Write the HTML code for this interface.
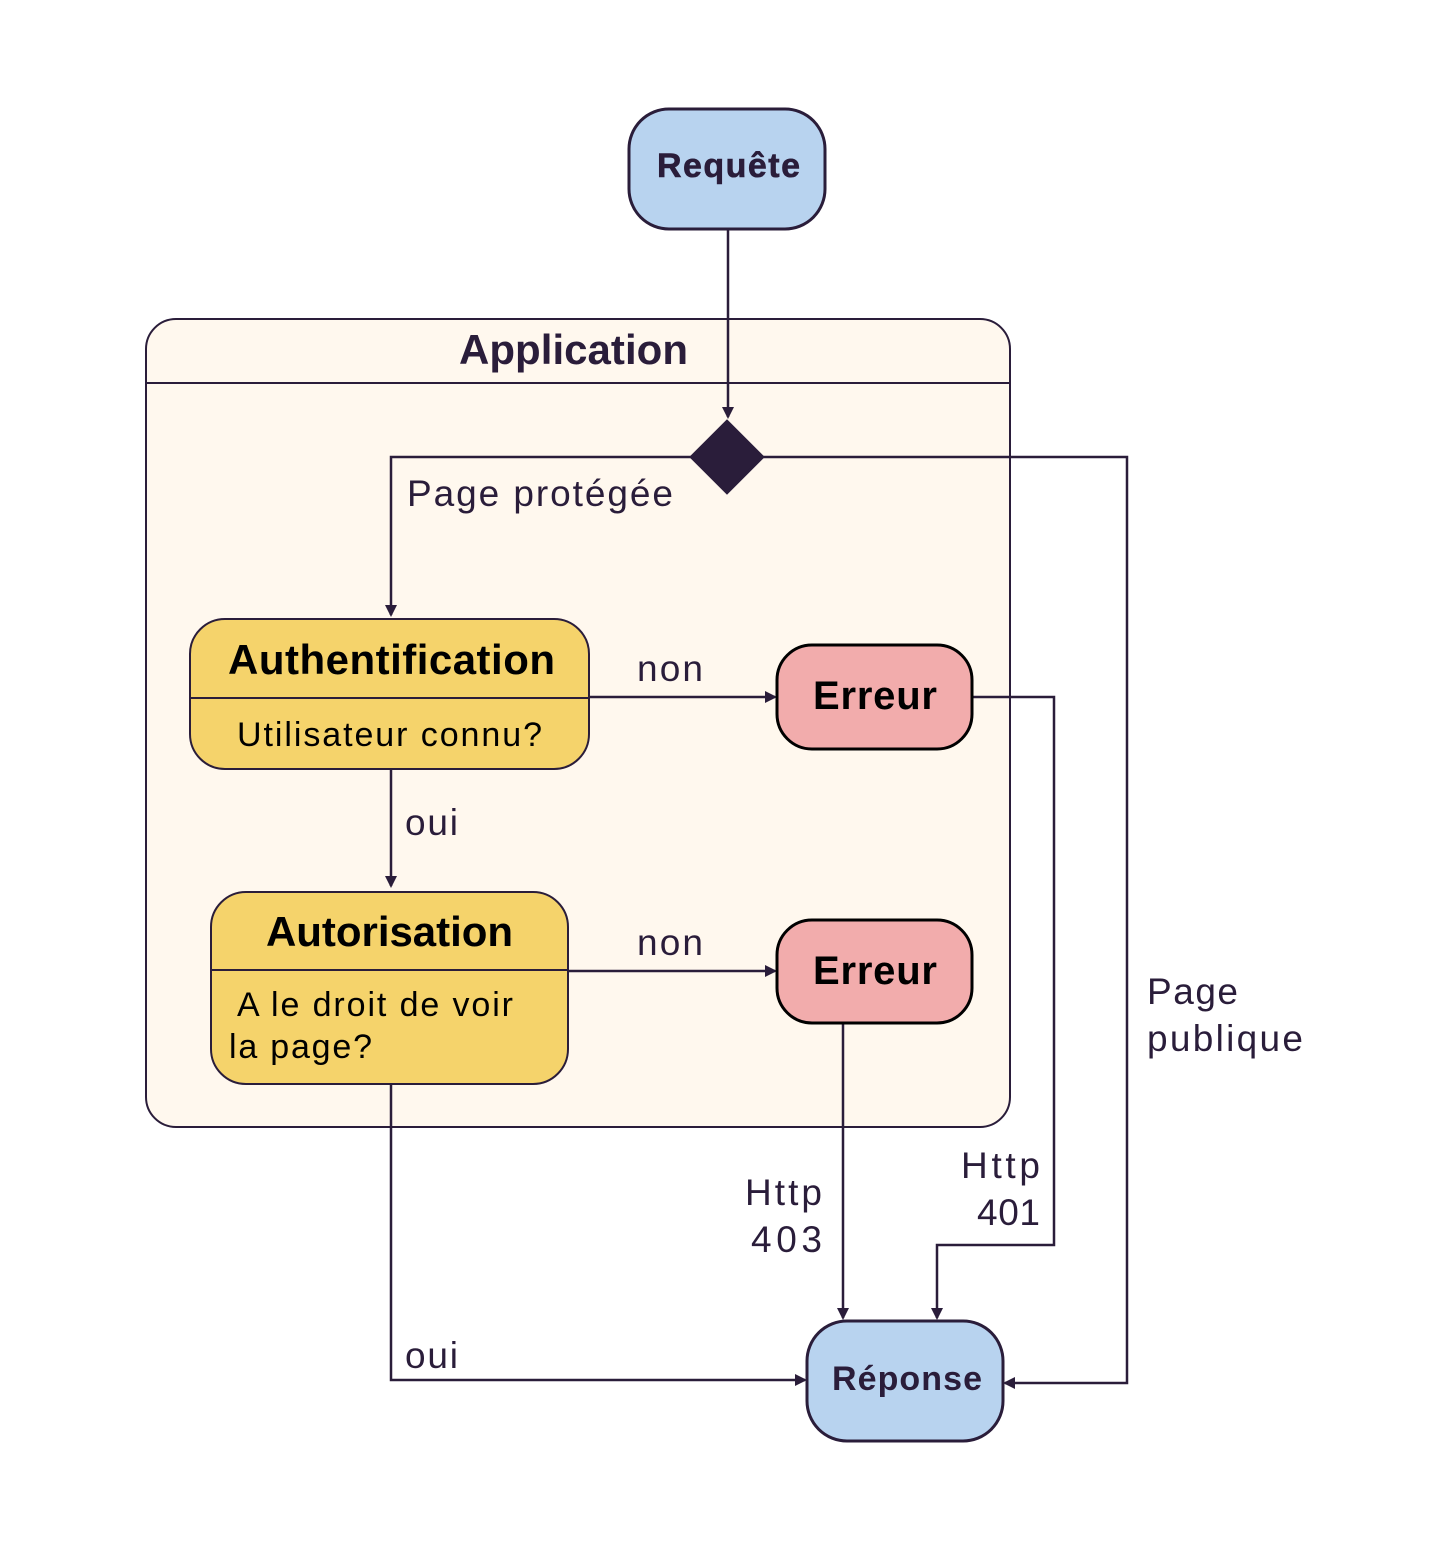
<!DOCTYPE html>
<html><head><meta charset="utf-8"><style>
html,body{margin:0;padding:0;background:#fff;}
svg{display:block;font-family:"Liberation Sans",sans-serif;}
</style></head><body>
<svg width="1448" height="1559" viewBox="0 0 1448 1559" xmlns="http://www.w3.org/2000/svg">
<defs>
<marker id="a" markerWidth="12" markerHeight="12" refX="10" refY="6" orient="auto" markerUnits="userSpaceOnUse">
<path d="M0,0 L12,6 L0,12 z" fill="#2a1d3a"/>
</marker>
</defs>
<g stroke="#2a1d3a" fill="none" stroke-width="2.5">
<rect x="146" y="319" width="864" height="808" rx="30" fill="#fff8ee" stroke-width="2"/>
<line x1="146" y1="383" x2="1010" y2="383" stroke-width="2"/>
<path d="M728,229 L728,417" marker-end="url(#a)"/>
<path d="M692,457 L391,457 L391,615" marker-end="url(#a)"/>
<path d="M762,457 L1127,457 L1127,1383 L1005,1383" marker-end="url(#a)"/>
<path d="M589,697 L775,697" marker-end="url(#a)"/>
<path d="M972,697 L1054,697 L1054,1245 L937,1245 L937,1318" marker-end="url(#a)"/>
<path d="M391,769 L391,886" marker-end="url(#a)"/>
<path d="M568,971 L775,971" marker-end="url(#a)"/>
<path d="M843,1023 L843,1318" marker-end="url(#a)"/>
<path d="M391,1084 L391,1380 L805,1380" marker-end="url(#a)"/>
<rect x="629" y="109" width="196" height="120" rx="40" fill="#b8d3ef" stroke-width="3"/>
<path d="M727,421 L763,457 L727,493 L691,457 z" fill="#2a1d3a"/>
<rect x="190" y="619" width="399" height="150" rx="35" fill="#f5d36b" stroke-width="2"/>
<line x1="190" y1="698" x2="589" y2="698" stroke-width="2"/>
<rect x="211" y="892" width="357" height="192" rx="35" fill="#f5d36b" stroke-width="2"/>
<line x1="211" y1="970" x2="568" y2="970" stroke-width="2"/>
<rect x="777" y="645" width="195" height="104" rx="35" fill="#f2acac" stroke="#000" stroke-width="3"/>
<rect x="777" y="920" width="195" height="103" rx="35" fill="#f2acac" stroke="#000" stroke-width="3"/>
<rect x="807" y="1321" width="196" height="120" rx="40" fill="#b8d3ef" stroke-width="3"/>
</g>
<g fill="#2a1d3a" font-size="34">
<text x="657" y="177" textLength="143" lengthAdjust="spacing" font-weight="600" stroke="#2a1d3a" stroke-width="0.6">Requête</text>
<text x="832" y="1390" textLength="150" lengthAdjust="spacing" font-weight="bold">Réponse</text>
<text x="459" y="364" textLength="229" lengthAdjust="spacing" font-size="42" font-weight="bold">Application</text>
<text x="407" y="506" textLength="266" lengthAdjust="spacing" font-size="37">Page protégée</text>
<text x="637" y="681" textLength="66" lengthAdjust="spacing" font-size="37">non</text>
<text x="637" y="955" textLength="66" lengthAdjust="spacing" font-size="37">non</text>
<text x="405" y="835" textLength="53" lengthAdjust="spacing" font-size="37">oui</text>
<text x="405" y="1368" textLength="53" lengthAdjust="spacing" font-size="37">oui</text>
<text x="961" y="1178" textLength="79" lengthAdjust="spacing" font-size="37">Http</text>
<text x="977" y="1225" textLength="63" lengthAdjust="spacing" font-size="37">401</text>
<text x="745" y="1205" textLength="77" lengthAdjust="spacing" font-size="37">Http</text>
<text x="751" y="1252" textLength="71" lengthAdjust="spacing" font-size="37">403</text>
<text x="1147" y="1004" textLength="91" lengthAdjust="spacing" font-size="37">Page</text>
<text x="1147" y="1051" textLength="156" lengthAdjust="spacing" font-size="37">publique</text>
</g>
<g fill="#000">
<text x="228" y="674" textLength="327" lengthAdjust="spacing" font-size="42" font-weight="bold">Authentification</text>
<text x="237" y="746" textLength="305" lengthAdjust="spacing" font-size="34">Utilisateur connu?</text>
<text x="266" y="946" textLength="247" lengthAdjust="spacing" font-size="42" font-weight="bold">Autorisation</text>
<text x="237" y="1016" textLength="276" lengthAdjust="spacing" font-size="34">A le droit de voir</text>
<text x="229" y="1058" textLength="143" lengthAdjust="spacing" font-size="34">la page?</text>
<text x="813" y="709" textLength="124" lengthAdjust="spacing" font-size="40" font-weight="bold">Erreur</text>
<text x="813" y="984" textLength="124" lengthAdjust="spacing" font-size="40" font-weight="bold">Erreur</text>
</g>
</svg>
</body></html>
